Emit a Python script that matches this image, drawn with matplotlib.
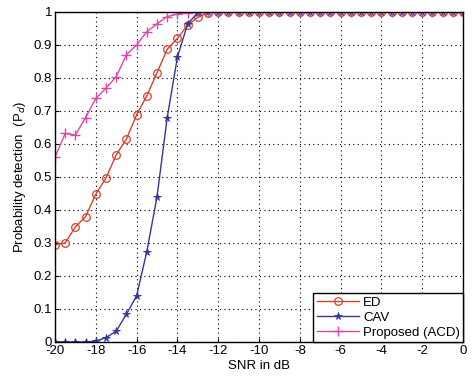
import matplotlib.pyplot as plt
import numpy as np

plt.rcParams['font.family'] = ['Liberation Sans', 'DejaVu Sans']
plt.rcParams['axes.unicode_minus'] = False

snr = np.arange(-20, 0.01, 0.5)

ed = [0.295, 0.30, 0.349, 0.38, 0.448, 0.497, 0.567, 0.615, 0.688, 0.746,
      0.816, 0.887, 0.92, 0.96, 0.984, 0.998] + [1.0] * 25
cav = [0.0, 0.0, 0.0, 0.0, 0.003, 0.013, 0.033, 0.084, 0.14, 0.274,
       0.44, 0.68, 0.863, 0.964, 0.998] + [1.0] * 26
acd = [0.56, 0.632, 0.627, 0.68, 0.738, 0.769, 0.804, 0.87, 0.9, 0.94,
       0.964, 0.986, 0.994, 0.997] + [1.0] * 27

fig = plt.figure(figsize=(4.74, 3.86), dpi=100)
ax = fig.add_axes([0.116, 0.114, 0.861, 0.855])

ax.plot(snr, ed, color='#d9402e', lw=1.0, marker='o', mfc='none', ms=5.5, mew=0.9, label='ED')
ax.plot(snr, cav, color='#35359a', lw=1.0, marker='*', ms=5.5, mew=0.6, label='CAV')
ax.plot(snr, acd, color='#d94aa8', lw=1.0, marker='+', ms=7, mew=1.0, label='Proposed (ACD)')

ax.set_xlim(-20, 0)
ax.set_ylim(0, 1)
ax.set_xticks(np.arange(-20, 1, 2))
ax.set_yticks(np.arange(0, 1.01, 0.1))
ax.set_yticklabels(['0', '0.1', '0.2', '0.3', '0.4', '0.5', '0.6', '0.7', '0.8', '0.9', '1'])
ax.tick_params(labelsize=9.5, direction='in', length=3, pad=2)
ax.grid(True, color='black', linestyle=(0, (1, 3)), lw=0.8)
for s in ax.spines.values():
    s.set_linewidth(1.0)

ax.set_xlabel('SNR in dB', fontsize=9.5, labelpad=2)
ax.set_ylabel('Probability detection  (P$_d$)', fontsize=9.5, labelpad=4)

leg = ax.legend(loc='lower right', fontsize=9.5, fancybox=False, framealpha=1,
                edgecolor='black', borderaxespad=0, handlelength=3.2,
                labelspacing=0.2, borderpad=0.25, handletextpad=0.3)
leg.get_frame().set_linewidth(1.0)

fig.savefig('out.png', dpi=100)
